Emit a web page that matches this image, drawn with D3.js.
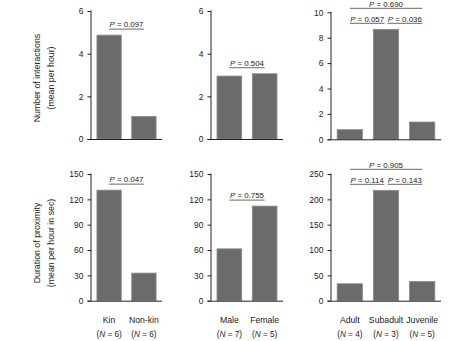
<!DOCTYPE html>
<html>
<head>
<meta charset="utf-8">
<script src="https://cdn.jsdelivr.net/npm/d3@7"></script>
<style>
  body { margin: 0; background: #fff; }
  svg { display: block; font-family: "Liberation Sans", Arial, sans-serif; }
  .axis path, .axis line { stroke: #222; }
  .axis text { fill: #222; font-size: 8.5px; }
</style>
</head>
<body>
<svg width="474" height="341"></svg>
<script>
// groups
var kinCats = ["Kin", "Non-kin"],   kinN = [6, 6];
var sexCats = ["Male", "Female"],   sexN = [7, 5];
var ageCats = ["Adult", "Subadult", "Juvenile"], ageN = [4, 3, 5];

// number of interactions (mean per hour)
var interKin = [4.87, 1.06];
var interSex = [2.95, 3.06];
var interAge = [0.76, 8.66, 1.36];

// duration of proximity (mean per hour in sec)
var proxKin = [130.9, 32.7];
var proxSex = [61.4, 112];
var proxAge = [33.4, 217.8, 38];

// tick values
var ticks6 = [0, 2, 4, 6];
var ticks10 = [0, 2, 4, 6, 8, 10];
var ticks150 = [0, 30, 60, 90, 120, 150];
var ticks250 = [0, 50, 100, 150, 200, 250];

// P values: [from, to, level, text]
var pInterKin = [[0, 1, 0, "0.097"]];
var pInterSex = [[0, 1, 0, "0.504"]];
var pInterAge = [[0, 1, 0, "0.057"], [1, 2, 0, "0.036"], [0, 2, 1, "0.690"]];
var pProxKin = [[0, 1, 0, "0.047"]];
var pProxSex = [[0, 1, 0, "0.755"]];
var pProxAge = [[0, 1, 0, "0.114"], [1, 2, 0, "0.143"], [0, 2, 1, "0.905"]];

var svg = d3.select('svg');

function panel(cats, ns, vals, ticks, xr, yr, comps, showCats) {
    var x = d3.scaleBand().domain(cats).range(xr).paddingInner(0.3).paddingOuter(0.17);
    var y = d3.scaleLinear().domain([0, d3.max(ticks)]).range(yr);
    var g = svg.append('g');

    g.selectAll('rect.bar')
        .data(vals)
        .enter().append('rect')
        .attr('class', 'bar')
        .attr('x', function(d, i) { return x(cats[i]); })
        .attr('y', function(d) { return y(d); })
        .attr('width', x.bandwidth())
        .attr('height', function(d) { return y(0) - y(d); })
        .attr('fill', '#6b6b6b')
        .attr('stroke', '#8c8c8c')
        .attr('stroke-width', 0.8);

    g.append('g')
        .attr('class', 'axis')
        .attr('transform', 'translate(' + xr[0] + ',0)')
        .call(d3.axisLeft(y).tickValues(ticks).tickFormat(d3.format('d')).tickSize(3.5).tickPadding(4).tickSizeOuter(0))
        .call(function(a) { a.select('.domain').attr('d', 'M0,' + y(0) + 'V' + (y(d3.max(ticks)) - 0.5)); });

    g.append('line')
        .attr('x1', xr[0] - 3.5).attr('x2', xr[1])
        .attr('y1', y(0) + 0.5).attr('y2', y(0) + 0.5)
        .attr('stroke', '#222');

    comps.forEach(function(c) {
        var c1 = x(cats[c[0]]) + x.bandwidth() / 2,
            c2 = x(cats[c[1]]) + x.bandwidth() / 2;
        var top = d3.max(vals.slice(c[0], c[1] + 1));
        var ly = y(top) - 6 - c[2] * 15;
        var a = c1, b = c2;
        if (c[2] == 0 && cats.length > 2) {
            if (c[0] == 1) a += 1.5; else b -= 1.5;
        }
        g.append('line')
            .attr('x1', a).attr('x2', b)
            .attr('y1', ly).attr('y2', ly)
            .attr('stroke', '#444').attr('stroke-width', 0.8);
        var t = g.append('text')
            .attr('x', (a + b) / 2)
            .attr('y', ly - 1.8)
            .attr('text-anchor', 'middle')
            .attr('font-size', '7.9px')
            .attr('fill', '#222');
        t.append('tspan').attr('font-style', 'italic').text('P');
        t.append('tspan').text(' = ' + c[3]);
    });

    if (showCats) {
        cats.forEach(function(cat, i) {
            var cx = x(cat) + x.bandwidth() / 2;
            g.append('text')
                .attr('x', cx).attr('y', 323)
                .attr('text-anchor', 'middle')
                .attr('font-size', '8.7px')
                .attr('fill', '#222')
                .text(cat);
            var t = g.append('text')
                .attr('x', cx).attr('y', 337)
                .attr('text-anchor', 'middle')
                .attr('font-size', '8.2px')
                .attr('fill', '#222');
            t.append('tspan').text('(');
            t.append('tspan').attr('font-style', 'italic').text('N');
            t.append('tspan').text(' = ' + ns[i] + ')');
        });
    }
}

var topY = [139, 11], botY = [300.7, 174];
var p1 = [91, 162], p2 = [211, 283], p3 = [331, 441];

panel(kinCats, kinN, interKin, ticks6, p1, topY, pInterKin, false);
panel(sexCats, sexN, interSex, ticks6, p2, topY, pInterSex, false);
panel(ageCats, ageN, interAge, ticks10, p3, [139.3, 12.3], pInterAge, false);
panel(kinCats, kinN, proxKin, ticks150, p1, botY, pProxKin, true);
panel(sexCats, sexN, proxSex, ticks150, p2, botY, pProxSex, true);
panel(ageCats, ageN, proxAge, ticks250, p3, botY, pProxAge, true);

// y axis titles
function ytitle(lines, cy) {
    lines.forEach(function(s, i) {
        svg.append('text')
            .attr('transform', 'translate(' + (40 + i * 13.5) + ',' + cy + ')rotate(-90)')
            .attr('text-anchor', 'middle')
            .attr('font-size', '8.8px')
            .attr('fill', '#222')
            .text(s);
    });
}
ytitle(["Number of interactions", "(mean per hour)"], 78);
ytitle(["Duration of proximity", "(mean per hour in sec)"], 243);
</script>
</body>
</html>
